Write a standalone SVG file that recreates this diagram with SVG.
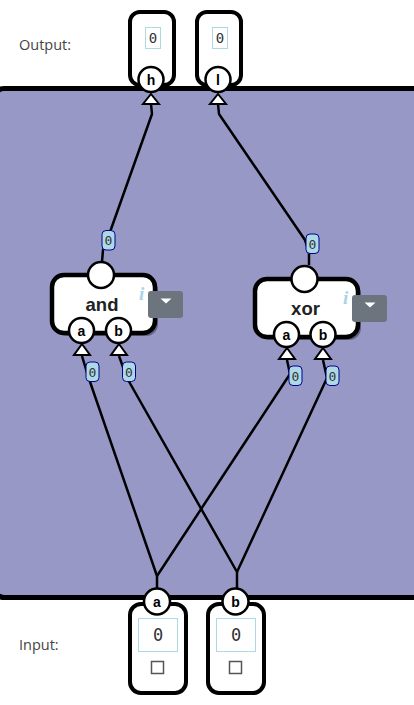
<svg xmlns="http://www.w3.org/2000/svg" width="414" height="705" viewBox="0 0 414 705">
<style>
.io{fill:#fff;stroke:#000;stroke-width:4}
.num{fill:#fff;stroke:#add8e6;stroke-width:1}
.mono{font-family:"DejaVu Sans Mono","Liberation Mono",monospace;fill:#333;text-anchor:middle}
.lbl{font-family:"Open Sans","Noto Sans",sans-serif;font-size:14.5px;fill:#444}
.port{fill:#fff;stroke:#000;stroke-width:2.5}
.pt{font-family:"Liberation Sans",Arial,sans-serif;font-weight:bold;font-size:14px;text-anchor:middle;fill:#000}
.arr{fill:#fff;stroke:#000;stroke-width:2;stroke-linejoin:miter}
.wire{fill:none;stroke:#000;stroke-width:2.5;stroke-linejoin:round}
.wl{fill:#add8e6;stroke:#00008b;stroke-width:1}
.gate{fill:#fff;stroke:#000;stroke-width:4.5}
.shadow{fill:#000;opacity:0.35}
.gt{font-family:"Liberation Sans",Arial,sans-serif;font-weight:bold;font-size:18.5px;text-anchor:middle;fill:#222}
.info{font-family:"Liberation Serif","Times New Roman",serif;font-style:italic;font-weight:bold;font-size:19px;fill:#a8d4e6}
.dd{fill:#6c757d}
.caret{fill:#fff}
.chk{fill:#fff;stroke:#555;stroke-width:1.5}
</style>

<text class="lbl" x="19" y="50">Output:</text>
<text class="lbl" x="19" y="650">Input:</text>

<g id="out-h">
<rect class="io" x="130" y="12" width="44" height="73" rx="10"/>
<rect class="num" x="145.5" y="27.5" width="15" height="21"/>
<text class="mono" x="153" y="43" font-size="14">0</text>
</g>
<g id="out-l">
<rect class="io" x="197" y="12" width="44" height="73" rx="10"/>
<rect class="num" x="212.5" y="27.5" width="15" height="21"/>
<text class="mono" x="220" y="43" font-size="14">0</text>
</g>

<g id="in-a">
<rect class="io" x="130" y="604" width="56" height="89" rx="11"/>
<rect class="num" x="138.5" y="618.5" width="39" height="33"/>
<text class="mono" x="158" y="641" font-size="17">0</text>
<rect class="chk" x="151.5" y="661.5" width="12" height="12"/>
</g>
<g id="in-b">
<rect class="io" x="208" y="604" width="56" height="89" rx="11"/>
<rect class="num" x="216.5" y="618.5" width="39" height="33"/>
<text class="mono" x="236" y="641" font-size="17">0</text>
<rect class="chk" x="229.5" y="661.5" width="12" height="12"/>
</g>

<g id="panel">
<rect x="-6" y="88.5" width="430" height="509" rx="10" fill="#9898c7" stroke="#000" stroke-width="5"/>
</g>

<g id="connectors">
<path class="wire" d="M151,104 L152,114 L110,232 L103,250 L102,262"/>
<path class="wire" d="M218,104 L219,114 L305,240 L309,252 L309,265"/>
<path class="wire" d="M82,356 L88,376 L157,576 L157,590"/>
<path class="wire" d="M119,356 L127,378 L237,572 L237,590"/>
<path class="wire" d="M287,360 L290,374 L157,576"/>
<path class="wire" d="M323,360 L327,378 L237,572"/>
<rect class="wl" x="102" y="230.5" width="13" height="19.5" rx="4"/>
<text class="mono" x="108.5" y="245" font-size="13">0</text>
<rect class="wl" x="306" y="234" width="13" height="19.5" rx="4"/>
<text class="mono" x="312.5" y="248.5" font-size="13">0</text>
<rect class="wl" x="86" y="362" width="13" height="19.5" rx="4"/>
<text class="mono" x="92.5" y="376.5" font-size="13">0</text>
<rect class="wl" x="122.5" y="362" width="13" height="19.5" rx="4"/>
<text class="mono" x="129" y="376.5" font-size="13">0</text>
<rect class="wl" x="289" y="366" width="13" height="19.5" rx="4"/>
<text class="mono" x="295.5" y="380.5" font-size="13">0</text>
<rect class="wl" x="326" y="366" width="13" height="19.5" rx="4"/>
<text class="mono" x="332.5" y="380.5" font-size="13">0</text>
</g>

<g id="port-h">
<polygon class="arr" points="151,94 159,104 143,104"/>
<circle class="port" cx="151" cy="79.5" r="12.5"/>
<text class="pt" x="151" y="84.5">h</text>
</g>
<g id="port-l">
<polygon class="arr" points="218,94 226,104 210,104"/>
<circle class="port" cx="218" cy="79.5" r="12.5"/>
<text class="pt" x="218" y="84.5">l</text>
</g>

<g id="gate-and">
<rect class="shadow" x="55" y="278" width="103" height="58" rx="12"/>
<rect class="gate" x="52" y="275" width="103" height="58" rx="12"/>
<circle class="port" cx="101" cy="275" r="13"/>
<text class="gt" x="102" y="311">and</text>
<text class="info" x="139" y="300">i</text>
<rect class="dd" x="148" y="291" width="35" height="27" rx="3"/>
<polygon class="caret" points="160.5,298.5 171.5,298.5 166,303.5"/>
<polygon class="arr" points="82,344 90,355 74,355"/>
<polygon class="arr" points="119,344 127,355 111,355"/>
<circle class="port" cx="81.5" cy="330.5" r="12.5"/>
<text class="pt" x="81.5" y="335.5">a</text>
<circle class="port" cx="118.5" cy="330.5" r="12.5"/>
<text class="pt" x="118.5" y="335.5">b</text>
</g>

<g id="gate-xor">
<rect class="shadow" x="258" y="282" width="103" height="58" rx="12"/>
<rect class="gate" x="255" y="279" width="103" height="58" rx="12"/>
<circle class="port" cx="304.5" cy="279" r="13"/>
<text class="gt" x="305.5" y="315">xor</text>
<text class="info" x="343" y="304">i</text>
<rect class="dd" x="352" y="295" width="35" height="27" rx="3"/>
<polygon class="caret" points="364.5,302.5 375.5,302.5 370,307.5"/>
<polygon class="arr" points="287,348 295,359 279,359"/>
<polygon class="arr" points="323,348 331,359 315,359"/>
<circle class="port" cx="286.5" cy="334.5" r="12.5"/>
<text class="pt" x="286.5" y="339.5">a</text>
<circle class="port" cx="323" cy="334.5" r="12.5"/>
<text class="pt" x="323" y="339.5">b</text>
</g>

<g id="port-a">
<circle class="port" cx="157" cy="601.5" r="13"/>
<text class="pt" x="157" y="606.5">a</text>
</g>
<g id="port-b">
<circle class="port" cx="235.5" cy="601.5" r="13"/>
<text class="pt" x="235.5" y="606.5">b</text>
</g>
</svg>
